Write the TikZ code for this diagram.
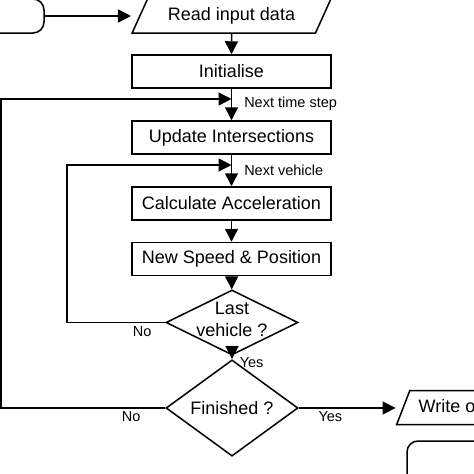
\documentclass[tikz,border=0pt]{standalone}
\usepackage{fontspec}
\setmainfont{Liberation Sans}
\usetikzlibrary{shapes.geometric, arrows.meta}

\begin{document}
\begin{tikzpicture}[x=1pt, y=-1pt, line width=1.5pt,
    font=\fontsize{18}{22}\selectfont,
    box/.style={draw, rectangle, minimum width=199pt, minimum height=33pt},
    io/.style={draw, trapezium, trapezium left angle=60, trapezium right angle=120,
        trapezium stretches=true, minimum height=34pt, inner sep=2pt},
    term/.style={draw, rectangle, rounded corners=11pt},
    decision/.style={draw, diamond, inner sep=0pt, minimum width=132pt, minimum height=65pt},
    note/.style={font=\fontsize{14.5}{17}\selectfont, inner sep=2pt},
    arr/.style={-{Triangle[length=13pt, width=13pt]}}]
        \useasboundingbox (0,0) rectangle (474,474);

        % Start, input and the boxes down the middle
        \node[term, minimum width=88pt, minimum height=34pt] (start) at (0,16) {};
        \node[io, minimum width=199pt] (read) at (231.5,16) {Read input data};
        \node[box] (init) at (231.5,71.5) {Initialise};
        \node[box] (upd) at (231.5,137.5) {Update Intersections};
        \node[box] (calc) at (231.5,203.5) {Calculate Acceleration};
        \node[box] (speed) at (231.5,259) {New Speed \& Position};

        % The two decisions
        \node[decision, label={[align=center, yshift=3.5pt]center:Last\\vehicle ?}] (last) at (232,322.5) {};
        \node[decision] (fin) at (232,408) {Finished ?};

        % Output and end (cut off at the edge)
        \node[io, minimum width=181pt] (write) at (487,407.5) {Write output data};
        \node[term, minimum width=106pt, minimum height=60pt] (stop) at (460,471) {};

        % Junctions of the loops
        \coordinate (j1) at (231.5,99);
        \coordinate (j2) at (231.5,165);
        \coordinate (l1) at (1,99);
        \coordinate (l2) at (67,165);

        % Straight arrows
        \draw[arr] (start.east) -- (read.bottom left corner |- start.east);
        \draw[arr] (read) -- (init);
        \draw[arr] (init) -- (upd);
        \draw[arr] (upd) -- (calc);
        \draw[arr] (calc) -- (speed);
        \draw[arr] (speed) -- (last);
        \draw[arr] (last) -- (fin);
        \draw[arr] (fin.east) -- (write.bottom left corner |- fin.east);

        % Loop back arrows
        \draw[arr] (last.west) -| (l2) -- (j2);
        \draw[arr] (fin.west) -| (l1) -- (j1);

        % Labels
        \node[note, anchor=west] at ([xshift=10pt, yshift=-5pt]j1) {Next time step};
        \node[note, anchor=west] at ([xshift=10pt, yshift=-5pt]j2) {Next vehicle};
        \node[note, anchor=west] at ([xshift=5pt, yshift=-7pt]last.south) {Yes};
        \node[note, anchor=east] at ([xshift=-11pt, yshift=-9pt]last.west) {No};
        \node[note, anchor=east] at ([xshift=-22pt, yshift=-9pt]fin.west) {No};
        \node[note, anchor=west] at ([xshift=17pt, yshift=-9pt]fin.east) {Yes};
    \end{tikzpicture}
\end{document}
